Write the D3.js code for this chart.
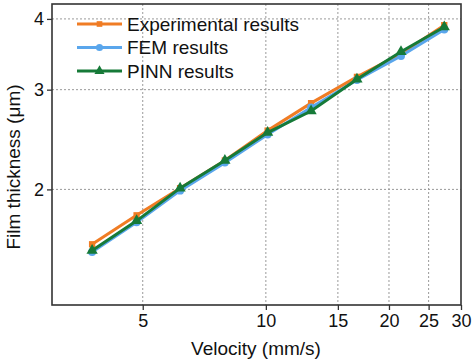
<!DOCTYPE html>
<html lang="en">
<head>
<meta charset="utf-8">
<title>Film thickness vs velocity</title>
<script src="https://cdn.jsdelivr.net/npm/d3@7"></script>
<style>
  body { margin: 0; background: #fff; }
  text { font-family: Arial, "Liberation Sans", sans-serif; fill: #111; }
  .grid line { stroke: #9a9a9a; stroke-dasharray: 2,2; stroke-width: 1; }
</style>
</head>
<body>
<div id="chart"></div>
<script>
// velocities (mm/s)
var velocity = [3.76, 4.83, 6.17, 7.94, 10.1, 12.9, 16.7, 21.4, 27.3];
var expResults  = [1.60, 1.80, 2.01, 2.25, 2.54, 2.84, 3.16, 3.47, 3.90];
var femResults  = [1.55, 1.75, 1.99, 2.23, 2.50, 2.79, 3.12, 3.44, 3.83];
var pinnResults = [1.56, 1.76, 2.01, 2.25, 2.52, 2.75, 3.13, 3.50, 3.87];
var xTicks = [5, 10, 15, 20, 25, 30];
var yTicks = [2, 3, 4];
var seriesNames = ["Experimental results", "FEM results", "PINN results"];

var w = 474, h = 362;
var padL = 52, padR = 461, padT = 4, padB = 305;

var svg = d3.select("#chart").append("svg")
  .attr("width", w).attr("height", h);

var x = d3.scaleLog().domain([3, 30]).range([padL, padR]);
var y = d3.scaleLog().domain([1.25, 4.25]).range([padB, padT]);

// grid
var grid = svg.append("g").attr("class", "grid");
grid.selectAll(".gx").data(xTicks.filter(function(d){ return d < 30; }))
  .enter().append("line")
  .attr("x1", function(d){ return x(d); }).attr("x2", function(d){ return x(d); })
  .attr("y1", padT).attr("y2", padB);
grid.selectAll(".gy").data(yTicks)
  .enter().append("line")
  .attr("y1", function(d){ return y(d); }).attr("y2", function(d){ return y(d); })
  .attr("x1", padL).attr("x2", padR);

// axes
var xAxis = d3.axisBottom(x).tickValues(xTicks).tickFormat(d3.format("d")).tickSize(5).tickPadding(4);
var yAxis = d3.axisLeft(y).tickValues(yTicks).tickFormat(d3.format("d")).tickSize(5).tickPadding(3);

var gx = svg.append("g").attr("transform", "translate(0," + padB + ")").call(xAxis);
var gy = svg.append("g").attr("transform", "translate(" + padL + ",0)").call(yAxis);
[gx, gy].forEach(function(g){
  g.select(".domain").remove();
  g.selectAll("line").attr("stroke", "#333").attr("stroke-width", 1.3);
  g.selectAll("text").style("font-size", "18px").attr("fill", "#111");
});

// frame
svg.append("rect")
  .attr("x", padL).attr("y", padT)
  .attr("width", padR - padL).attr("height", padB - padT)
  .attr("fill", "none").attr("stroke", "#333").attr("stroke-width", 1.6);

// series
var series = [
  { name: seriesNames[0], values: expResults,  color: "#f07c24", marker: d3.symbolSquare,   size: 40 },
  { name: seriesNames[1], values: femResults,  color: "#5aa6ec", marker: d3.symbolCircle,   size: 50 },
  { name: seriesNames[2], values: pinnResults, color: "#167a38", marker: d3.symbolTriangle, size: 55 }
];

var line = d3.line()
  .x(function(d){ return x(d[0]); })
  .y(function(d){ return y(d[1]); });

series.forEach(function(s){
  var pts = velocity.map(function(v, i){ return [v, s.values[i]]; });
  svg.append("path")
    .datum(pts)
    .attr("d", line)
    .attr("fill", "none")
    .attr("stroke", s.color)
    .attr("stroke-width", 3);
  svg.selectAll(null).data(pts).enter().append("path")
    .attr("d", d3.symbol().type(s.marker).size(s.size))
    .attr("transform", function(d){ return "translate(" + x(d[0]) + "," + y(d[1]) + ")"; })
    .attr("fill", s.color);
});

// legend
var legend = svg.append("g").attr("transform", "translate(77,24)");
series.forEach(function(s, i){
  var g = legend.append("g").attr("transform", "translate(0," + (i * 23.5) + ")");
  g.append("line").attr("x1", 0).attr("x2", 45).attr("y1", 0).attr("y2", 0)
    .attr("stroke", s.color).attr("stroke-width", 3);
  g.append("path").attr("d", d3.symbol().type(s.marker).size(s.size * 0.8))
    .attr("transform", "translate(22.5,0)").attr("fill", s.color);
  g.append("text").attr("x", 50).attr("y", 0).attr("dy", "0.35em")
    .style("font-size", "19px").text(s.name);
});

// axis titles
svg.append("text")
  .attr("x", 256).attr("y", 355)
  .attr("text-anchor", "middle")
  .style("font-size", "19px")
  .text("Velocity (mm/s)");

svg.append("text")
  .attr("transform", "translate(20,167) rotate(-90)")
  .attr("text-anchor", "middle")
  .style("font-size", "19px")
  .text("Film thickness (μm)");
</script>
</body>
</html>
